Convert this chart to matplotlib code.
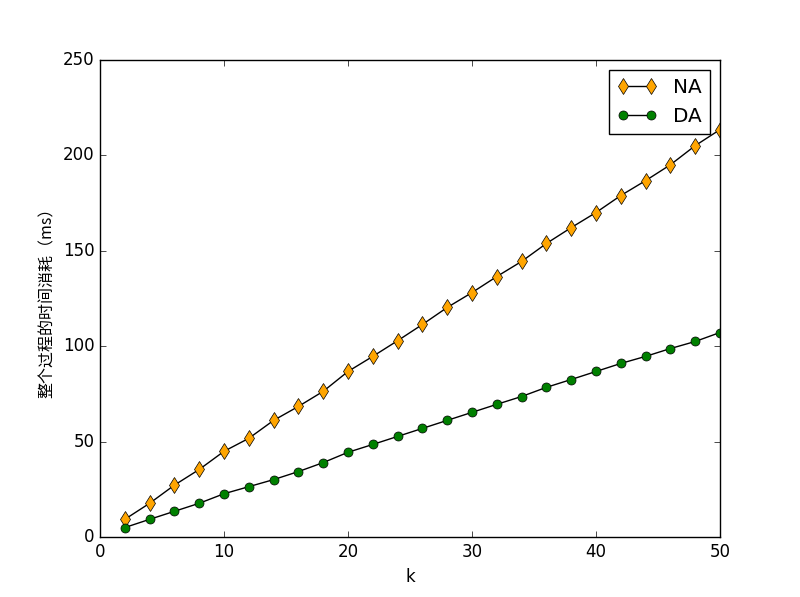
import matplotlib
matplotlib.use('Agg')
import matplotlib.pyplot as plt

k = [2, 4, 6, 8, 10, 12, 14, 16, 18, 20, 22, 24, 26,
     28, 30, 32, 34, 36, 38, 40, 42, 44, 46, 48, 50]
na_time = [9.4, 17.8, 27.3, 35.5, 45.0, 51.8, 61.2, 68.5, 76.4, 86.8, 94.7, 102.9, 111.4,
           120.3, 128.1, 136.5, 144.4, 153.8, 162.1, 170.0, 178.9, 186.7, 195.0, 205.0, 213.4]
da_time = [5.1, 9.4, 13.6, 17.8, 22.8, 26.5, 30.2, 34.4, 39.1, 44.5, 48.6, 52.8, 57.0,
           61.2, 65.4, 69.6, 73.7, 78.5, 82.6, 86.8, 91.0, 94.7, 98.8, 102.5, 107.2]

plt.style.use('classic')
fig = plt.figure(figsize=(8, 5.97), dpi=100)
ax = fig.add_subplot(111)

ax.plot(k, na_time, color='black', marker='d', markerfacecolor='orange',
        markersize=8, label='NA')
ax.plot(k, da_time, color='black', marker='o', markerfacecolor='green',
        markersize=6.5, label='DA')

ax.set_xlim(0, 50)
ax.set_ylim(0, 250)
ax.set_xlabel('k')
ax.set_ylabel('整个过程的时间消耗（ms）', family=['Noto Sans CJK SC', 'DejaVu Sans'],
              fontsize=11.5)
ax.legend(loc='upper right')

fig.savefig('out.png', dpi=100)
